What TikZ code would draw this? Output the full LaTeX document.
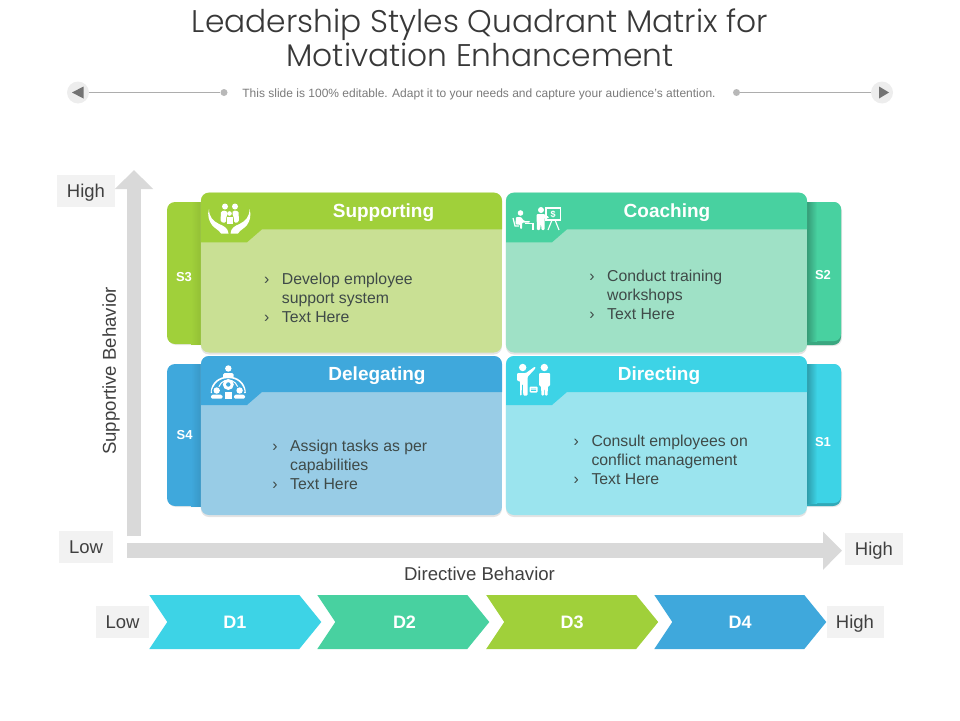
\documentclass[tikz,border=0pt]{standalone}
\usepackage{fontspec}
\setmainfont{Liberation Sans}
\newfontfamily\titlefont{Poppins Light}
\usetikzlibrary{arrows.meta,shadows}
\definecolor{supdark}{HTML}{A0D03A}
\definecolor{suplight}{HTML}{C9E094}
\definecolor{coadark}{HTML}{48D1A0}
\definecolor{coalight}{HTML}{9FE1C6}
\definecolor{deldark}{HTML}{3FA8DC}
\definecolor{dellight}{HTML}{98CCE6}
\definecolor{dirdark}{HTML}{3DD3E6}
\definecolor{dirlight}{HTML}{9BE4EE}
\definecolor{axisgray}{HTML}{D9D9D9}
\definecolor{boxgray}{HTML}{F2F2F2}
\definecolor{bodytext}{HTML}{3F4A48}
\newcommand\bul{\llap{›\hspace{12.5pt}}}
\newcommand\chev[2]{\fill[#2] (#1,595) -- ++(150,0) -- ++(22,27) -- ++(-22,27) -- ++(-150,0) -- ++(18,-27) -- cycle;}
\tikzset{
  card/.style={rounded corners=8pt,minimum width=301pt,inner sep=0pt,
    drop shadow={opacity=.22,shadow xshift=0pt,shadow yshift=-2pt}},
  sidetab/.style={rounded corners=8pt,minimum width=44pt,inner sep=0pt,
    drop shadow={opacity=.18,shadow xshift=1pt,shadow yshift=-1pt}},
  sidelabel/.style={text=white,font=\fontsize{13}{15}\selectfont\bfseries},
  headlabel/.style={text=white,inner sep=0pt,text height=13.6pt,text depth=0pt,font=\fontsize{19}{22}\selectfont\bfseries},
  listbox/.style={anchor=west,align=left,inner sep=0pt,text=bodytext,font=\fontsize{15.8}{19}\selectfont},
  scalebox/.style={fill=boxgray,inner sep=0pt,minimum height=32pt,text height=13.2pt,text depth=0pt,font=\fontsize{18.5}{22}\selectfont,text=black!75},
  axislabel/.style={inner sep=0pt,font=\fontsize{18.6}{22}\selectfont,text=black!75},
  axisline/.style={draw=axisgray,line width=14.5pt,-{Triangle[length=19pt,width=37pt]}},
  chevlabel/.style={text=white,font=\fontsize{18}{21}\selectfont\bfseries},
  capdisc/.style={circle,fill=black!7,minimum size=22pt,inner sep=0pt},
  enddot/.style={circle,fill=black!28,minimum size=7pt,inner sep=0pt},
  ruleline/.style={draw=black!32,line width=.8pt}
}
\begin{document}
\begin{tikzpicture}[x=1pt,y=-1pt]
\useasboundingbox (0,0) rectangle (960,720);

\node[font=\titlefont\fontsize{31.3}{34}\selectfont,align=center,text=black!78,inner sep=0pt] (title) at (480,38) {Leadership Styles Quadrant Matrix for\\Motivation Enhancement};
\node[font=\fontsize{12}{14}\selectfont,text=black!52,inner sep=0pt] (subtitle) at (479,94) {This slide is 100\% editable. Adapt it to your needs and capture your audience's attention.};

\node[capdisc] (capl) at (78,92.5) {};
\node[capdisc] (capr) at (882,92.5) {};
\node[enddot] (dotl) at (224,92.5) {};
\node[enddot] (dotr) at (736.5,92.5) {};
\draw[ruleline] (capl) -- (dotl);
\draw[ruleline] (dotr) -- (capr);
\fill[black!55] (72,92.5) -- (83.5,86.5) -- (83.5,98.5) -- cycle;
\fill[black!55] (889,92.5) -- (879,86.5) -- (879,98.5) -- cycle;

\coordinate (ylow) at (134,536);
\coordinate (yhigh) at (134,170);
\coordinate (xlow) at (127,550.7);
\coordinate (xhigh) at (842,550.7);
\draw[axisline] (ylow) -- (yhigh);
\draw[axisline] (xlow) -- (xhigh);

\node[scalebox,minimum width=58pt] (yhighbox) at (86,191) {High};
\node[scalebox,minimum width=54pt] (ylowbox) at (86,547) {Low};
\node[scalebox,minimum width=58pt] (xhighbox) at (874,549) {High};
\node[scalebox,minimum width=53pt] (dlowbox) at (122.5,622) {Low};
\node[scalebox,minimum width=57pt] (dhighbox) at (855,622) {High};
\node[axislabel,rotate=90] (ylabel) at (111,371) {Supportive Behavior};
\node[axislabel] (xlabel) at (479.5,574) {Directive Behavior};

\node[sidetab,fill=supdark,minimum height=142pt] (s3tab) at (189,273) {};
\node[sidetab,fill=deldark,minimum height=142pt] (s4tab) at (189,435) {};
\node[sidetab,fill=coadark!80!black,minimum height=143pt] (s2tab) at (819,273.5) {};
\node[sidetab,fill=dirdark!80!black,minimum height=142pt] (s1tab) at (819,435) {};
\fill[coadark,rounded corners=7pt] (800,202) rectangle (841,341);
\fill[dirdark,rounded corners=7pt] (800,364) rectangle (841,503);
\shade[left color=coadark!72!black,right color=coadark] (806,202) rectangle (817,341);
\shade[left color=dirdark!72!black,right color=dirdark] (806,364) rectangle (817,503);
\shade[left color=supdark,right color=supdark!92!black] (191,202) rectangle (201,344);
\shade[left color=deldark,right color=deldark!90!black] (191,364) rectangle (201,506);

\node[sidelabel] (s3) at (184,277) {S3};
\node[sidelabel] (s2) at (823,275) {S2};
\node[sidelabel] (s4) at (184.6,435) {S4};
\node[sidelabel] (s1) at (823,441.7) {S1};

\node[card,fill=suplight,minimum height=160pt] (supcard) at (351.4,272.5) {};
\node[card,fill=coalight,minimum height=160pt] (coacard) at (656.4,272.5) {};
\node[card,fill=dellight,minimum height=159pt] (delcard) at (351.4,435.5) {};
\node[card,fill=dirlight,minimum height=159pt] (dircard) at (656.4,435.5) {};

\fill[supdark] (201,242.3) [rounded corners=8pt] -- (201,192.7) -- (502,192.7) [sharp corners] -- (502,229.3) -- (262,229.3) -- (247,242.3) -- cycle;
\fill[coadark] (506,242.3) [rounded corners=8pt] -- (506,192.7) -- (807,192.7) [sharp corners] -- (807,229.3) -- (567,229.3) -- (552,242.3) -- cycle;
\fill[deldark] (201,405) [rounded corners=8pt] -- (201,356) -- (502,356) [sharp corners] -- (502,392) -- (262,392) -- (247,405) -- cycle;
\fill[dirdark] (506,405) [rounded corners=8pt] -- (506,356) -- (807,356) [sharp corners] -- (807,392) -- (567,392) -- (552,405) -- cycle;

\node[headlabel] (suphead) at (383.5,210.5) {Supporting};
\node[headlabel] (coahead) at (667,210.5) {Coaching};
\node[headlabel] (delhead) at (377,373.5) {Delegating};
\node[headlabel] (dirhead) at (659,373.5) {Directing};

\node[listbox] (suplist) at (281.7,297.7) {\bul Develop employee\\support system\\\bul Text Here};
\node[listbox] (coalist) at (607,294.7) {\bul Conduct training\\workshops\\\bul Text Here};
\node[listbox] (dellist) at (290,464.7) {\bul Assign tasks as per\\capabilities\\\bul Text Here};
\node[listbox] (dirlist) at (591.3,459.7) {\bul Consult employees on\\conflict management\\\bul Text Here};

\fill[white] (209,209) .. controls (209,217) and (213,221) .. (219,224) .. controls (224,226) and (228,228) .. (228.5,233.5) -- (221,233.5) .. controls (219,230) and (214,228) .. (212,225) .. controls (209,221) and (207,215) .. (209,209) -- cycle;
\fill[white] (249.5,209) .. controls (249.5,217) and (245.5,221) .. (239.5,224) .. controls (234.5,226) and (231,228) .. (230.5,233.5) -- (238,233.5) .. controls (240,230) and (245,228) .. (247,225) .. controls (250,221) and (251.5,215) .. (249.5,209) -- cycle;
\fill[white] (225,206.5) circle (3pt) (235,206.5) circle (3pt) (229.5,213.5) circle (2.3pt);
\fill[white,rounded corners=1.5pt] (220.5,222) -- (221,211) -- (226,210.5) -- (228,213) -- (226,218) -- (226,223) -- cycle;
\fill[white,rounded corners=1.5pt] (239,222) -- (238.5,211) -- (233,210.5) -- (232,213) -- (234,218) -- (234,223) -- cycle;
\fill[white] (226.5,217) rectangle (232.5,224);

\fill[white] (520.5,213) circle (2.8pt) (541,210) circle (3pt);
\fill[white,rounded corners=1pt] (516,217) -- (521,217) -- (524,221) -- (530,221) -- (530,222.5) -- (522,222.5) -- (522,229) -- (520,229) -- (520,224.5) -- (515.5,224.5) -- cycle;
\draw[white,line width=1.2pt] (513,218) -- (515,226) -- (519,226);
\draw[white,line width=1.2pt] (525,223.5) -- (533,223.5) -- (533,230);
\fill[white,rounded corners=1pt] (536.5,214) -- (544,214) -- (549,217) -- (548.5,218.5) -- (544.5,217.5) -- (544.5,230) -- (541.5,230) -- (541,223) -- (540,230) -- (537,230) -- cycle;
\draw[white,line width=1.1pt] (546,208) rectangle (560.5,220);
\draw[white,line width=1.1pt] (552,220) -- (548,230) (555,220) -- (559,230);
\node[text=white,inner sep=0pt,font=\fontsize{9}{9}\selectfont\bfseries] (coasign) at (553.2,214) {\$};

\fill[white] (228.3,368.5) circle (3.2pt);
\fill[white,rounded corners=1.5pt] (223,378) -- (223,373) -- (233.6,373) -- (233.6,378) -- cycle;
\draw[white,line width=1.6pt] (211.5,393) .. controls (211.5,372) and (245,372) .. (245,393);
\draw[white,line width=1pt] (218,392) .. controls (218,376) and (238.6,376) .. (238.6,392);
\fill[white] (228.3,384.5) circle (5.5pt);
\fill[deldark] (228.3,384.5) circle (2.2pt);
\fill[deldark] (216.7,391) circle (5pt) (239.6,391) circle (5pt);
\fill[white] (216.7,390.5) circle (3.2pt) (239.6,390.5) circle (3.2pt);
\fill[white,rounded corners=1.5pt] (210.5,398.5) -- (211.5,394.5) -- (222,394.5) -- (223,398.5) -- cycle;
\fill[white,rounded corners=1.5pt] (233.5,398.5) -- (234.5,394.5) -- (244.5,394.5) -- (245.5,398.5) -- cycle;
\fill[white] (225,392) rectangle (231.5,398.5);

\fill[white] (522.7,367.5) circle (3.7pt) (544.3,367.5) circle (3.7pt);
\fill[white,rounded corners=1pt] (517,373) -- (526,373) -- (535,366.5) -- (535.8,368) -- (527.5,377) -- (527.5,395.7) -- (523.3,395.7) -- (523,384) -- (522,384) -- (521.5,395.7) -- (520,395.7) -- (520,381) -- (517,381) -- cycle;
\fill[white,rounded corners=1pt] (539,373) -- (550,373) -- (550,386) -- (548,386) -- (547.5,395.7) -- (545,395.7) -- (544.5,384) -- (544,395.7) -- (541.5,395.7) -- (541,386) -- (539,386) -- cycle;
\fill[white,rounded corners=1pt] (529.5,386.5) rectangle (537.5,392.5);
\fill[dirdark] (531,388.5) rectangle (536,389.3) (531,390) rectangle (536,390.8);

\chev{149.3}{dirdark}
\chev{317.3}{coadark}
\chev{486.2}{supdark}
\chev{654.3}{deldark}
\node[chevlabel] (d1) at (235,622) {D1};
\node[chevlabel] (d2) at (404.5,622) {D2};
\node[chevlabel] (d3) at (572,622) {D3};
\node[chevlabel] (d4) at (740,622) {D4};
\end{tikzpicture}
\end{document}
